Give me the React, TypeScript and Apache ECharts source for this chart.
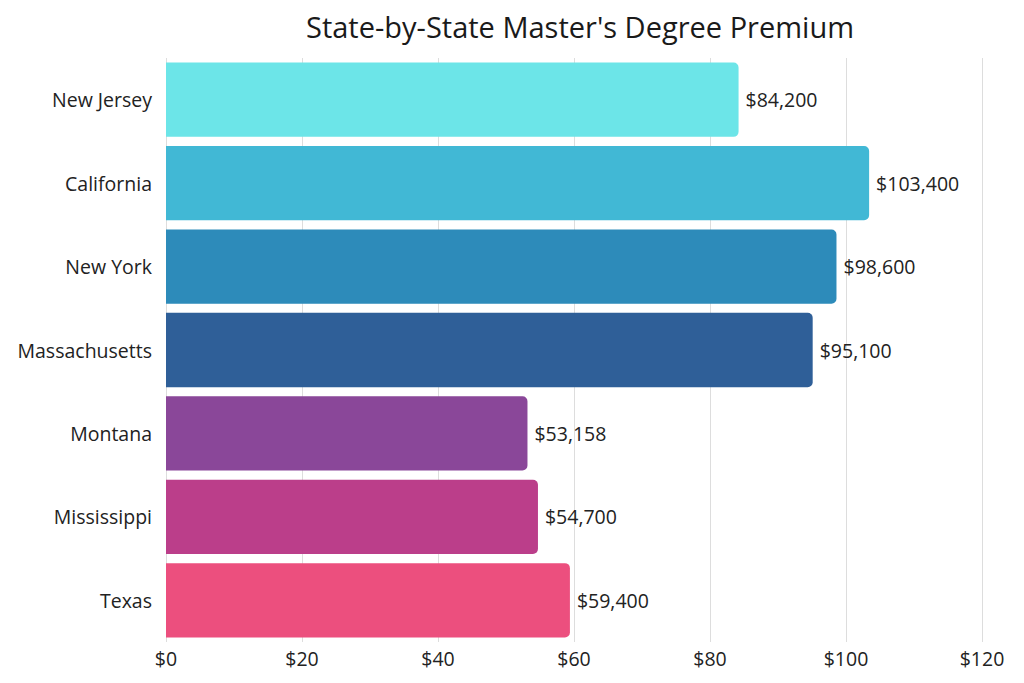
import React, { useEffect, useRef } from "react";
import * as echarts from "echarts";

const states = ["New Jersey", "California", "New York", "Massachusetts", "Montana", "Mississippi", "Texas"];
const premiums = [84200, 103400, 98600, 95100, 53158, 54700, 59400];
const barColors = ["#6CE5E8", "#41B8D5", "#2D8BBA", "#2F5F98", "#8A4799", "#BB3E8A", "#EC4F7E"];
const axisMax = 120000;
const axisStep = 20000;

export default function App() {
  const ref = useRef<HTMLDivElement>(null);
  useEffect(() => {
    const chart = echarts.init(ref.current!, null, { renderer: "svg" });
    const font = "'Open Sans', 'Noto Sans', sans-serif";
    chart.setOption({
      animation: false,
      backgroundColor: "#ffffff",
      title: {
        text: "State-by-State Master's Degree Premium",
        left: 575,
        textAlign: "center",
        top: 7,
        textStyle: { fontFamily: font, fontSize: 29, fontWeight: "normal", color: "#1a1a1a" },
      },
      grid: { left: 166, right: 42, top: 58, height: 584, containLabel: false },
      xAxis: {
        type: "value",
        min: 0,
        max: axisMax,
        interval: axisStep,
        axisLine: { show: false },
        axisTick: { show: false },
        splitLine: { show: true, lineStyle: { color: "#dddddd", width: 1 } },
        axisLabel: {
          fontFamily: font,
          fontSize: 19.5,
          color: "#222",
          margin: 6,
          formatter: (v: number) => "$" + v / 1000,
        },
      },
      yAxis: {
        type: "category",
        data: states,
        inverse: true,
        axisLine: { show: false },
        axisTick: { show: false },
        axisLabel: { fontFamily: font, fontSize: 19.5, color: "#222", margin: 14 },
      },
      series: [
        {
          type: "bar",
          barCategoryGap: "11%",
          data: premiums.map((v, i) => ({ value: v, itemStyle: { color: barColors[i] } })),
          itemStyle: { borderRadius: [0, 5, 5, 0] },
          label: {
            show: true,
            position: "right",
            distance: 7,
            fontFamily: font,
            fontSize: 19.5,
            color: "#222",
            formatter: (p: any) => "$" + Number(p.value).toLocaleString("en-US"),
          },
        },
      ],
    });
    return () => chart.dispose();
  }, []);
  return <div ref={ref} style={{ width: 1024, height: 683, position: "absolute", left: 0, top: 0 }} />;
}
